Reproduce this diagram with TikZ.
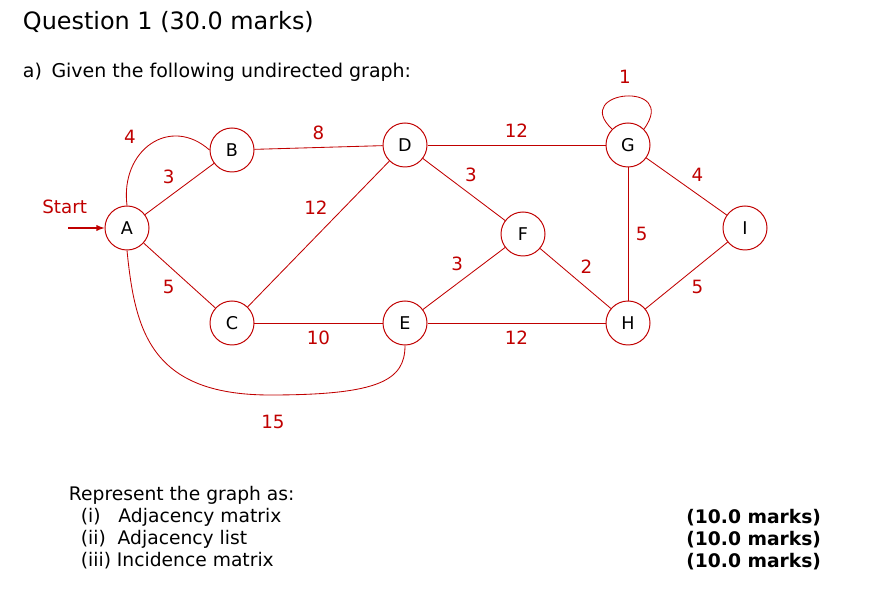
\documentclass[tikz,border=0pt]{standalone}
\usepackage{fontspec}
\setmainfont{DejaVu Sans}
\definecolor{gred}{HTML}{C00000}
\begin{document}
\begin{tikzpicture}[x=0.025cm,y=-0.025cm,
	vert/.style={shape=circle,draw=gred,line width=0.7pt,minimum size=1.1cm,inner sep=0pt,font=\fontsize{12.5}{14}\selectfont},
	wt/.style={text=gred,font=\fontsize{13}{15}\selectfont},
	ln/.style={gred,line width=0.6pt}]
	\useasboundingbox (0,0) rectangle (870,603);
	
	\node[anchor=west,font=\fontsize{17}{20}\selectfont] (title) at (18,22) {Question 1 (30.0 marks)};
	\node[anchor=west,font=\fontsize{13.5}{16}\selectfont] (qa) at (18,72) {a)\enspace Given the following undirected graph:};
	
	\node[vert] (A) at (127,228) {A};
	\node[vert] (B) at (232,150) {B};
	\node[vert] (C) at (232,323) {C};
	\node[vert] (D) at (405,145) {D};
	\node[vert] (E) at (405,323) {E};
	\node[vert] (F) at (523,234) {F};
	\node[vert] (G) at (628,145) {G};
	\node[vert] (H) at (628,323) {H};
	\node[vert] (I) at (745,228) {I};
	
	\node[wt,anchor=east] (start) at (92,207) {Start};
	\coordinate (s) at (68,228);
	\draw[ln,line width=1pt,-latex] (s) -- (A);
	
	\path[ln] (A) edge node[wt,above left] {3} (B);
	\draw[ln] (A.north) .. controls (120,150) and (170,115) .. (B.west);
	\node[wt] (w4) at (130,137) {4};
	\path[ln] (B) edge node[wt,above,yshift=2pt] {8} (D);
	\path[ln] (A) edge node[wt,below left] {5} (C);
	\path[ln] (C) edge node[wt,pos=0.6,above left] {12} (D);
	\path[ln] (C) edge node[wt,below,yshift=-2pt] {10} (E);
	\draw[ln] (A.south) .. controls (135,330) and (150,395) .. (270,395) .. controls (380,395) and (405,380) .. (E.south);
	\node[wt] (w15) at (273,422) {15};
	\path[ln] (D) edge node[wt,above,yshift=2pt] {12} (G);
	\path[ln] (D) edge node[wt,above right,pos=0.45] {3} (F);
	\path[ln] (E) edge node[wt,above left,pos=0.55] {3} (F);
	\path[ln] (F) edge node[wt,above right] {2} (H);
	\path[ln] (E) edge node[wt,below,yshift=-2pt] {12} (H);
	\path[ln] (G) edge node[wt,right,xshift=2pt] {5} (H);
	\path[ln] (G) edge node[wt,above right] {4} (I);
	\path[ln] (H) edge node[wt,below right] {5} (I);
	\draw[ln] (G.north west) .. controls (570,90) and (680,80) .. (G.north east);
	\node[wt] (w1) at (625,77) {1};
	
	\node[anchor=west,font=\fontsize{13.3}{15.6}\selectfont,align=left] (task) at (64,528)
		{Represent the graph as:\\
		\ \ (i)\ \ \ Adjacency matrix\\
		\ \ (ii)\ \ Adjacency list\\
		\ \ (iii)\ Incidence matrix};
	\node[anchor=east,font=\fontsize{13.3}{15.6}\selectfont\bfseries,align=left] (marks) at (826,540)
		{(10.0 marks)\\(10.0 marks)\\(10.0 marks)};
	
\end{tikzpicture}
\end{document}
